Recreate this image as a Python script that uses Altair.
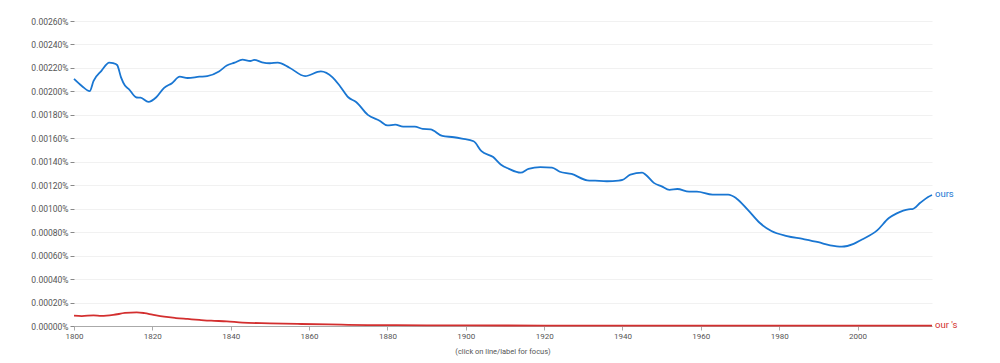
import altair as alt
import pandas as pd

# ---- data (values in percent) ----
years_ours = [1800, 1802, 1804, 1805, 1807, 1809, 1810, 1811, 1812, 1813, 1814, 1816, 1817, 1819,
              1821, 1823, 1825, 1827, 1829, 1832, 1834, 1837, 1839, 1841, 1843, 1845, 1846, 1848,
              1850, 1852, 1855, 1859, 1863, 1866, 1868, 1870, 1872, 1875, 1878, 1880, 1882, 1884,
              1887, 1889, 1891, 1894, 1897, 1899, 1902, 1904, 1907, 1909, 1911, 1914, 1916, 1919,
              1922, 1924, 1927, 1931, 1933, 1936, 1939, 1940, 1942, 1945, 1946, 1948, 1950, 1952,
              1954, 1957, 1959, 1963, 1967, 1969, 1972, 1975, 1978, 1982, 1986, 1990, 1993, 1996,
              1999, 2001, 2005, 2008, 2010, 2013, 2014, 2016, 2018, 2019]
vals_ours = [0.002106, 0.002046, 0.002003, 0.002090, 0.002175, 0.002245, 0.002240, 0.002225,
             0.002120, 0.002050, 0.002020, 0.001948, 0.001946, 0.001910, 0.001950, 0.002030,
             0.002070, 0.002125, 0.002114, 0.002125, 0.002130, 0.002170, 0.002220, 0.002245,
             0.002270, 0.002259, 0.002268, 0.002248, 0.002240, 0.002245, 0.002202, 0.002130,
             0.002170, 0.002120, 0.002040, 0.001950, 0.001910, 0.001800, 0.001750, 0.001710,
             0.001716, 0.001700, 0.001700, 0.001680, 0.001677, 0.001620, 0.001609, 0.001597,
             0.001575, 0.001490, 0.001440, 0.001375, 0.001340, 0.001307, 0.001340, 0.001355,
             0.001350, 0.001315, 0.001296, 0.001242, 0.001239, 0.001234, 0.001239, 0.001245,
             0.001290, 0.001307, 0.001287, 0.001220, 0.001190, 0.001160, 0.001168, 0.001145,
             0.001145, 0.001120, 0.001120, 0.001090, 0.000990, 0.000880, 0.000810, 0.000767,
             0.000742, 0.000714, 0.000688, 0.000676, 0.000700, 0.000735, 0.000815, 0.000920,
             0.000960, 0.000995, 0.000997, 0.001050, 0.001100, 0.001117]

years_ours_s = [1800, 1802, 1805, 1807, 1810, 1813, 1816, 1818, 1820, 1823, 1826, 1829, 1832,
                1835, 1839, 1843, 1850, 1858, 1865, 1870, 1880, 1890, 1900, 1920, 1940, 1960,
                1980, 2000, 2019]
vals_ours_s = [0.000088, 0.000085, 0.000091, 0.000086, 0.000094, 0.000111, 0.000117, 0.000110,
               0.000097, 0.000079, 0.000068, 0.000060, 0.000052, 0.000045, 0.000040, 0.000029,
               0.000023, 0.000017, 0.000013, 0.000010, 0.000007, 0.000006, 0.000005, 0.000004,
               0.000004, 0.000003, 0.000003, 0.000003, 0.000003]

series_names = ["ours", "our 's"]
series_colors = ["#1976d2", "#d32f2f"]
x_ticks = [1800, 1820, 1840, 1860, 1880, 1900, 1920, 1940, 1960, 1980, 2000]
y_ticks = [0.0, 0.0002, 0.0004, 0.0006, 0.0008, 0.0010, 0.0012, 0.0014,
           0.0016, 0.0018, 0.0020, 0.0022, 0.0024, 0.0026]
footer_text = "(click on line/label for focus)"

df = pd.concat([
    pd.DataFrame({"year": years_ours, "value": vals_ours, "series": series_names[0]}),
    pd.DataFrame({"year": years_ours_s, "value": vals_ours_s, "series": series_names[1]}),
], ignore_index=True)
last = df.loc[df.groupby("series")["year"].idxmax()]

color = alt.Color("series:N", scale=alt.Scale(domain=series_names, range=series_colors), legend=None)
x = alt.X("year:Q", scale=alt.Scale(domain=[1800, 2019], nice=False, zero=False),
          axis=alt.Axis(values=x_ticks, tickCount=len(x_ticks), format="d", grid=False, title=None,
                        labelFlush=False, labelOverlap=False,
                        domainColor="#aaaaaa", tickColor="#aaaaaa", tickSize=4,
                        labelColor="#555555", labelFontSize=8, labelPadding=2))
y = alt.Y("value:Q", scale=alt.Scale(domain=[0, 0.0026], nice=False),
          axis=alt.Axis(values=y_ticks, tickCount=len(y_ticks), title=None, domain=False,
                        labelOverlap=False, labelFlush=False,
                        labelExpr="format(datum.value, '.5f') + '%'",
                        gridColor="#f1f1f1", tickColor="#888888", tickSize=4,
                        labelColor="#555555", labelFontSize=8.5, labelPadding=2))

lines = alt.Chart(df).mark_line(interpolate="monotone", strokeWidth=1.8).encode(
    x=x, y=y, color=color, detail="series:N")

labels = alt.Chart(last).mark_text(align="left", baseline="middle", dx=3, dy=-1, fontSize=9.5,
                                   font="Roboto").encode(
    x="year:Q", y="value:Q", text="series:N", color=color)

footer = alt.Chart(pd.DataFrame({"t": [footer_text]})).mark_text(
    align="center", baseline="middle", fontSize=7.5, color="#555555", font="Roboto").encode(
    x=alt.value(429), y=alt.value(331), text="t:N")

chart = alt.layer(lines, labels, footer).properties(
    width=858, height=305,
    autosize=alt.AutoSizeParams(type="none"),
    padding={"left": 66, "top": 13, "right": 60, "bottom": 33},
).configure(font="Roboto").configure_view(stroke=None)

chart.save("out.html", embed_options={"renderer": "svg", "actions": False})
